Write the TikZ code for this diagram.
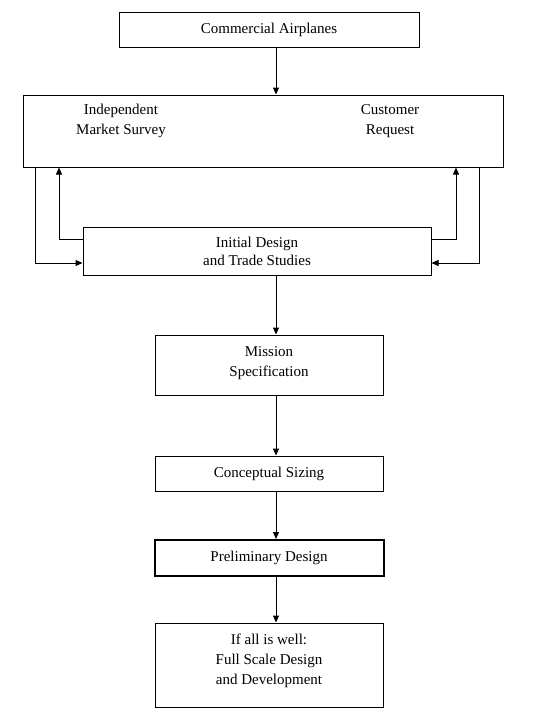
\documentclass[tikz,border=0pt]{standalone}
\usepackage{fontspec}
\setmainfont{Liberation Serif}
\usetikzlibrary{arrows.meta, positioning}
\tikzstyle{stepbox} = [rectangle, draw, line width=1pt, align=center, minimum width=228pt, inner sep=0pt, font=\fontsize{15}{20}\selectfont]
\tikzstyle{plain} = [align=center, inner sep=0pt, font=\fontsize{15}{20}\selectfont]
\tikzstyle{arrow} = [-{Triangle[width=6pt,length=7pt]}, line width=1pt]

\begin{document}
\begin{tikzpicture}
\useasboundingbox (0,0) rectangle (552pt,-720pt);
\coordinate (spine) at (276pt,0);

% Top: source and the two inputs
\node[stepbox, minimum width=300pt, minimum height=35pt] (airplanes) at (269pt,-29.5pt) {Commercial Airplanes};
\node[stepbox, minimum width=480pt, minimum height=72pt, below=47pt of airplanes, xshift=-6pt] (sources) {};
\node[plain] (survey) at ([xshift=-142pt,yshift=10pt]sources.center) {Independent\\Market Survey};
\node[plain] (request) at ([xshift=127pt,yshift=10pt]sources.center) {Customer\\Request};

% Design chain
\node[stepbox, minimum width=348pt, minimum height=48pt, below=59pt of sources, xshift=-6pt, font=\fontsize{15}{18}\selectfont] (trade) {Initial Design\\and Trade Studies};
\node[stepbox, minimum height=60pt, below=59pt of trade, xshift=12pt, text depth=6pt] (mission) {Mission\\Specification};
\node[stepbox, minimum height=35pt, below=60pt of mission] (sizing) {Conceptual Sizing};
\node[stepbox, minimum height=36pt, minimum width=229pt, line width=2pt, below=47.5pt of sizing] (prelim) {Preliminary Design};
\node[stepbox, minimum height=84pt, below=45.5pt of prelim, text depth=11pt] (outcome) {If all is well:\\Full Scale Design\\and Development};

% Main flow
\draw[arrow] (airplanes.south -| spine) -- (sources.north -| spine);
\draw[arrow] (trade.south -| spine) -- (mission.north -| spine);
\draw[arrow] (mission.south -| spine) -- (sizing.north -| spine);
\draw[arrow] (sizing.south -| spine) -- (prelim.north -| spine);
\draw[arrow] (prelim.south -| spine) -- (outcome.north -| spine);

% Feedback loops between inputs and trade studies
\draw[arrow] ([xshift=13pt]sources.south west) |- ([yshift=-12pt]trade.west);
\draw[arrow] ([yshift=12pt]trade.west) -| ([xshift=36.5pt]sources.south west);
\draw[arrow] ([yshift=12pt]trade.east) -| ([xshift=-47.5pt]sources.south east);
\draw[arrow] ([xshift=-24pt]sources.south east) |- ([yshift=-12pt]trade.east);

\end{tikzpicture}
\end{document}
